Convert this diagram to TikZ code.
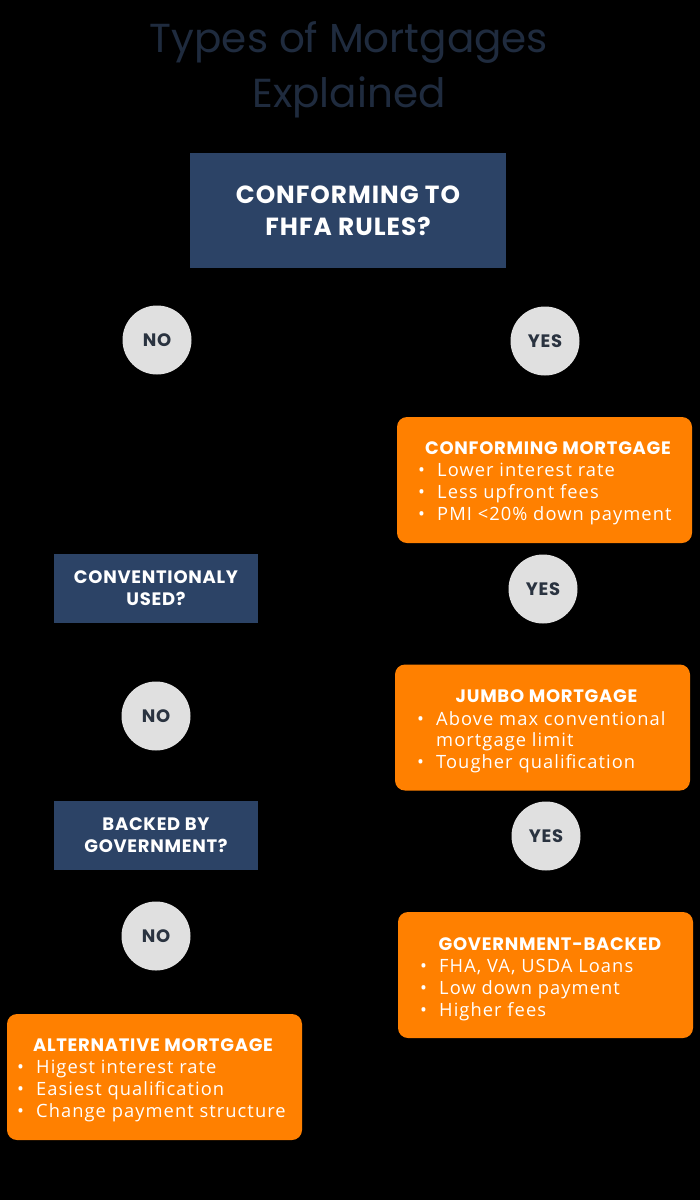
\documentclass[tikz,border=0pt]{standalone}
\usepackage{fontspec}
\setmainfont{Poppins}
\newfontfamily\headfont{Poppins}[LetterSpace=4]
\newfontfamily\bodyfont{Open Sans}[LetterSpace=5.8]
\definecolor{bgc}{HTML}{000000}
\definecolor{titlec}{HTML}{1F2B3E}
\definecolor{navy}{HTML}{2C4366}
\definecolor{orng}{HTML}{FF8000}
\definecolor{circc}{HTML}{E0E0E0}
\definecolor{circt}{HTML}{2A3340}
\tikzset{
  qbox/.style={fill=navy, text=white, align=center, inner sep=0pt,
    font=\headfont\bfseries\fontsize{18}{22}\selectfont},
  circnode/.style={circle, fill=circc, text=circt, minimum size=69pt, inner sep=0pt,
    font=\headfont\bfseries\fontsize{18}{20}\selectfont},
  obox/.style={fill=orng, rounded corners=10pt, minimum width=295pt, minimum height=126pt, inner sep=0pt},
  ohead/.style={text=white, inner sep=0pt, font=\headfont\bfseries\fontsize{18}{20}\selectfont},
  olist/.style={text=white, inner sep=0pt, anchor=north west, align=left,
    font=\bodyfont\fontsize{18.3}{21.8}\selectfont},
}
\newcommand{\bul}{\makebox[17pt][l]{\hspace{-2pt}•}}
\begin{document}
\begin{tikzpicture}[x=1pt,y=-1pt]
\fill[bgc] (0,0) rectangle (700,1200);
\useasboundingbox (0,0) rectangle (700,1200);
% title
\node[text=titlec, align=center, font=\fontsize{40.5}{55}\selectfont] (title) at (349,70) {Types of Mortgages\\Explained};
% question boxes
\node[qbox, minimum width=316pt, minimum height=115pt, font=\headfont\bfseries\fontsize{24.8}{32}\selectfont] (q1) at (348,210.5) {CONFORMING TO\\FHFA RULES?};
\node[qbox, minimum width=204pt, minimum height=69pt] (q2) at (156,588.5) {CONVENTIONALY\\USED?};
\node[qbox, minimum width=204pt, minimum height=69pt] (q3) at (156,835.5) {BACKED BY\\GOVERNMENT?};
% circles
\node[circnode] (no1) at (157,340) {NO};
\node[circnode] (yes1) at (545,341) {YES};
\node[circnode] (yes2) at (543,589) {YES};
\node[circnode] (no2) at (156,716) {NO};
\node[circnode] (yes3) at (546,836) {YES};
\node[circnode] (no3) at (156,936) {NO};
% orange boxes
\node[obox] (conf) at (544.5,480) {};
\node[ohead] (confh) at (548,448) {CONFORMING MORTGAGE};
\node[olist] (confl) at (420,463) {\bul Lower interest rate\\\bul Less upfront fees\\\bul PMI <20\% down payment};

\node[obox] (jumbo) at (542.5,727.5) {};
\node[ohead] (jumboh) at (546.5,696) {JUMBO MORTGAGE};
\node[olist] (jumbol) at (419,711) {\bul Above max conventional\\\hspace{17pt}mortgage limit\\\bul Tougher qualification};

\node[obox] (gov) at (545.5,975) {};
\node[ohead] (govh) at (550,944) {GOVERNMENT-BACKED};
\node[olist] (govl) at (422,959) {\bul FHA, VA, USDA Loans\\\bul Low down payment\\\bul Higher fees};

\node[obox] (alt) at (154.5,1077) {};
\node[ohead] (alth) at (153,1045) {ALTERNATIVE MORTGAGE};
\node[olist] (altl) at (19,1060) {\bul Higest interest rate\\\bul Easiest qualification\\\bul Change payment structure};
\end{tikzpicture}
\end{document}
